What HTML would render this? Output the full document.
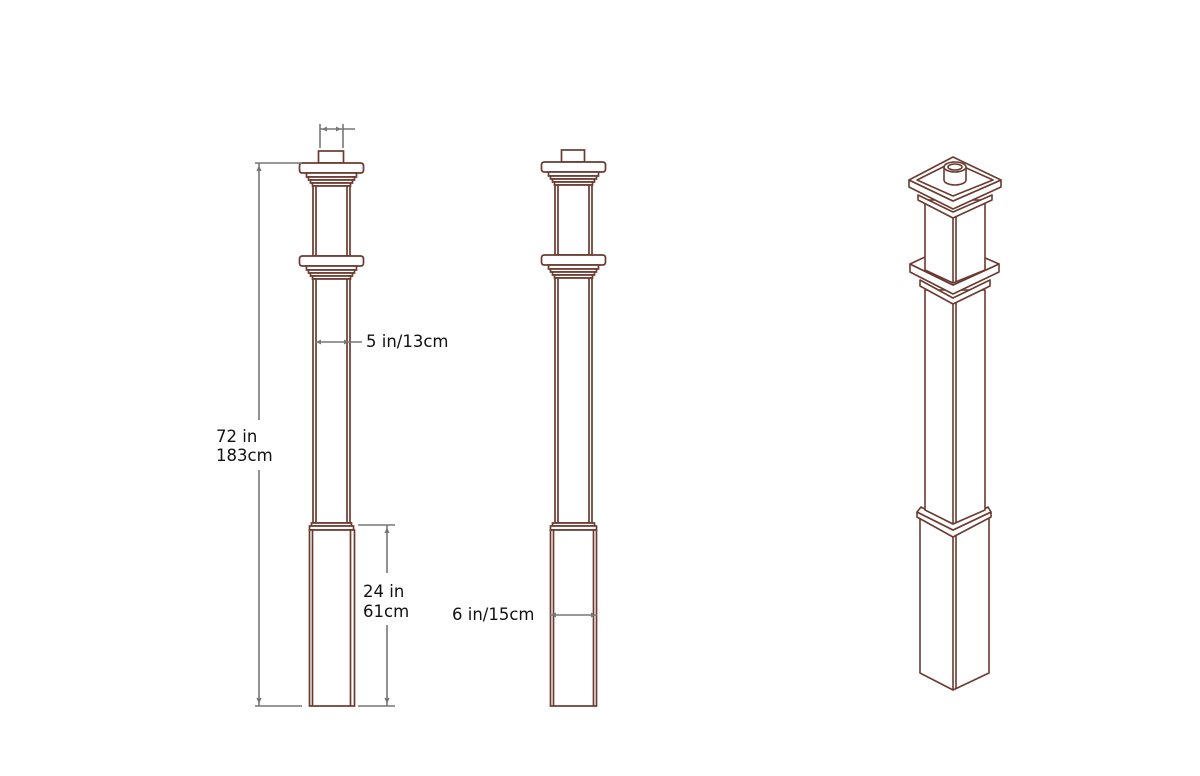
<!DOCTYPE html>
<html><head><meta charset="utf-8"><style>
html,body{margin:0;padding:0;background:#fff}
svg{display:block}
text{font-family:"DejaVu Sans","Liberation Sans",sans-serif;font-size:16.5px;fill:#111}
</style></head><body>
<svg width="1200" height="776" viewBox="0 0 1200 776" xmlns="http://www.w3.org/2000/svg">
<defs>
<g id="cap" fill="#fff" stroke="#6b3a30" stroke-width="1.7">
  <path d="M-29,0 h58 q3,0 3,3 v4 q0,3 -3,3 h-58 q-3,0 -3,-3 v-4 q0,-3 3,-3z"/>
  <rect x="-25" y="10" width="50" height="4"/>
  <rect x="-23" y="14" width="46" height="3"/>
  <rect x="-21" y="17" width="42" height="3"/>
  <rect x="-19" y="20" width="38" height="3"/>
</g>
</defs>
<!-- POST 1 -->
<g transform="translate(331.5,0)" fill="#fff" stroke="#6b3a30" stroke-width="1.7">
  <rect x="-13" y="151" width="25" height="12"/>
  <use href="#cap" y="163"/>
  <rect x="-18.5" y="186" width="37" height="70"/>
  <line x1="-15.5" y1="186" x2="-15.5" y2="256"/><line x1="15.5" y1="186" x2="15.5" y2="256"/>
  <use href="#cap" y="256"/>
  <rect x="-18.5" y="279" width="37" height="244"/>
  <line x1="-15.5" y1="279" x2="-15.5" y2="523"/><line x1="15.5" y1="279" x2="15.5" y2="523"/>
  <rect x="-20" y="523" width="40" height="3"/>
  <rect x="-22" y="526" width="44" height="4"/>
  <rect x="-22" y="530" width="45" height="176"/>
  <line x1="-19" y1="530" x2="-19" y2="706"/><line x1="19" y1="530" x2="19" y2="706"/>
</g>
<!-- POST 2 -->
<g transform="translate(573.5,0)" fill="#fff" stroke="#6b3a30" stroke-width="1.7">
  <rect x="-12" y="150" width="23" height="12"/>
  <use href="#cap" y="162"/>
  <rect x="-18.5" y="185" width="37" height="70"/>
  <line x1="-15.5" y1="185" x2="-15.5" y2="255"/><line x1="15.5" y1="185" x2="15.5" y2="255"/>
  <use href="#cap" y="255"/>
  <rect x="-18.5" y="278" width="37" height="245"/>
  <line x1="-15.5" y1="278" x2="-15.5" y2="523"/><line x1="15.5" y1="278" x2="15.5" y2="523"/>
  <rect x="-21" y="523" width="42" height="3"/>
  <rect x="-23" y="526" width="46" height="4"/>
  <rect x="-23" y="530" width="46" height="176"/>
  <line x1="-20" y1="530" x2="-20" y2="706"/><line x1="20" y1="530" x2="20" y2="706"/>
</g>
<!-- Dimensions -->
<g stroke="#777" stroke-width="1.6" fill="none">
  <line x1="255" y1="163" x2="302" y2="163"/>
  <line x1="255" y1="706" x2="302" y2="706"/>
  <line x1="259" y1="163" x2="259" y2="420"/>
  <line x1="259" y1="470" x2="259" y2="706"/>
  <line x1="358" y1="525" x2="395" y2="525"/>
  <line x1="358" y1="706" x2="395" y2="706"/>
  <line x1="387" y1="525" x2="387" y2="573"/>
  <line x1="387" y1="625" x2="387" y2="706"/>
  <line x1="320" y1="124" x2="320" y2="148"/>
  <line x1="343" y1="124" x2="343" y2="148"/>
  <line x1="320" y1="129" x2="355" y2="129"/>
  <line x1="315" y1="342" x2="362" y2="342"/>
  <line x1="550" y1="615" x2="597" y2="615"/>
</g>
<g fill="#777">
  <path d="M259,165 l-2.5,6 h5z M259,704 l-2.5,-6 h5z M387,527 l-2.5,6 h5z M387,704 l-2.5,-6 h5z"/>
  <path d="M322,129 l5,-2.5 v5z M341,129 l-5,-2.5 v5z"/>
  <path d="M316,342 l5,-2.5 v5z M349,342 l-5,-2.5 v5z"/>
  <path d="M551,615 l5,-2.5 v5z M596,615 l-5,-2.5 v5z"/>
</g>
<text x="216" y="442">72 in</text>
<text x="216" y="461">183cm</text>
<text x="366" y="347">5 in/13cm</text>
<text x="363" y="597">24 in</text>
<text x="363" y="617">61cm</text>
<text x="452" y="620">6 in/15cm</text>
<!-- ISO POST -->
<g fill="#fff" stroke="#6b3a30" stroke-width="1.6" stroke-linejoin="round">
  <!-- base -->
  <path d="M920,516 L953,535 L989,516 L989,673 L953,690 L920,673 Z"/>
  <line x1="953" y1="535" x2="953" y2="690"/><line x1="956" y1="533" x2="956" y2="689"/>
  <path d="M917,512 L953,530 L991,512 L991,517 L953,537 L917,517Z"/>
  <path d="M921,507 L953,524 L988,507 L991,512 L953,530 L917,512Z"/>
  <!-- shaft -->
  <path d="M925,290 L925,510 L953,524 L985,510 L985,290 Z"/>
  <line x1="953" y1="300" x2="953" y2="524"/><line x1="956" y1="298" x2="956" y2="522"/>
  <!-- middle collar -->
  <path d="M920,280 L953,298 L990,280 L990,286 L953,304 L920,286Z"/>
  <path d="M910,264 L953,285 L999,264 L999,272 L953,294 L910,272Z"/>
  <path d="M910,264 L953,244 L999,264 L953,285Z"/>
  <!-- upper shaft -->
  <path d="M925,200 L925,270 L953,283 L985,270 L985,200 Z"/>
  <line x1="953" y1="212" x2="953" y2="283"/><line x1="956" y1="211" x2="956" y2="282"/>
  <!-- top cap -->
  <path d="M918,195 L953,212 L992,195 L992,200 L953,218 L918,200Z"/>
  <path d="M909,180 L953,201 L1001,180 L1001,187 L953,209 L909,187Z"/>
  <path d="M909,180 L953,157 L1001,180 L953,201Z"/>
  <path d="M917,180 L953,162 L993,180 L953,196Z" fill="none"/>
  <!-- cylinder -->
  <path d="M944,167 L944,180 A11,5 0 0 0 966,180 L966,167"/>
  <ellipse cx="955" cy="167" rx="11" ry="5"/>
  <ellipse cx="955" cy="167" rx="7" ry="3"/>
</g>
</svg>
</body></html>
